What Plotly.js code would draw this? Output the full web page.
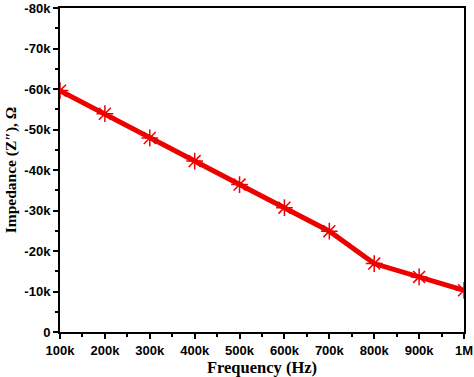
<!DOCTYPE html>
<html><head><meta charset="utf-8">
<script src="https://cdn.plot.ly/plotly-3.0.1.min.js"></script>
<style>body{margin:0;background:#fff}</style>
</head><body><div id="chart" style="width:474px;height:377px"></div>
<script>
const frequency = [100000, 200000, 300000, 400000, 500000, 600000, 700000, 800000, 900000, 1000000];
const impedance = [-59600, -53900, -47900, -42200, -36400, -30700, -24900, -16900, -13600, -10300];
const xTickVals = [100000, 200000, 300000, 400000, 500000, 600000, 700000, 800000, 900000, 1000000];
const xTickText = ['100k','200k','300k','400k','500k','600k','700k','800k','900k','1M'];
const yTickVals = [0, -10000, -20000, -30000, -40000, -50000, -60000, -70000, -80000];
const yTickText = ['0','-10k','-20k','-30k','-40k','-50k','-60k','-70k','-80k'];

const trace = {
  x: frequency, y: impedance, type: 'scatter', mode: 'lines+markers',
  line: {color: '#ee0000', width: 5},
  marker: {symbol: 'asterisk-open', size: 14, color: '#ee0000', line: {color: '#ee0000', width: 1.5}}
};
const tickFont = {family: 'Liberation Sans, Arial, sans-serif', size: 13, color: '#000', weight: 'bold'};
const titleFont = {family: 'Liberation Serif, Times New Roman, serif', size: 16.5, color: '#000', weight: 'bold'};
const yTitleFont = {family: 'Liberation Serif, Times New Roman, serif', size: 15.5, color: '#000', weight: 'bold'};
const layout = {
  width: 474, height: 377,
  margin: {l: 60, r: 10, t: 8, b: 45},
  paper_bgcolor: '#fff', plot_bgcolor: '#fff',
  showlegend: false,
  xaxis: {
    range: [100000, 1000000], tickvals: xTickVals, ticktext: xTickText,
    ticks: 'outside', ticklen: 5, tickwidth: 2, tickcolor: '#000',
    minor: {dtick: 50000, ticks: 'outside', ticklen: 3, tickwidth: 2, tickcolor: '#000'},
    showline: true, linewidth: 2, linecolor: '#000', mirror: true,
    showgrid: false, zeroline: false, tickfont: tickFont,
    title: {text: 'Frequency (Hz)', font: titleFont, standoff: 2}
  },
  yaxis: {
    range: [0, -80000.5], tickvals: yTickVals, ticktext: yTickText,
    ticks: 'outside', ticklen: 5, tickwidth: 2, tickcolor: '#000',
    minor: {dtick: 5000, tick0: 0, ticks: 'outside', ticklen: 3, tickwidth: 2, tickcolor: '#000'},
    showline: true, linewidth: 2, linecolor: '#000', mirror: true,
    showgrid: false, zeroline: false, tickfont: tickFont,
    title: {text: "Impedance (Z″), Ω", font: yTitleFont, standoff: 4}
  }
};
Plotly.newPlot('chart', [trace], layout, {displayModeBar: false, staticPlot: true});
</script></body></html>
